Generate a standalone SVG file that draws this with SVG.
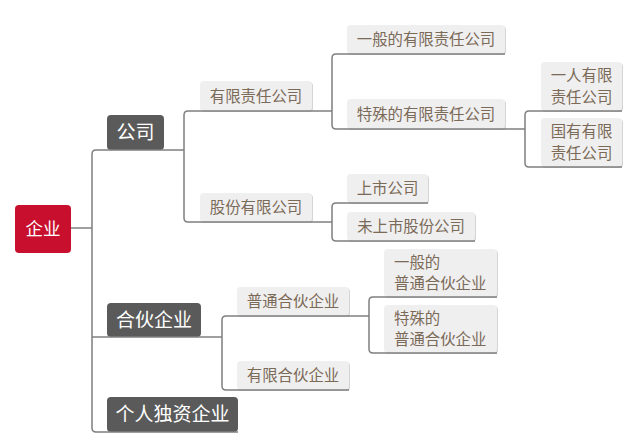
<svg xmlns="http://www.w3.org/2000/svg" width="641" height="442" viewBox="0 0 641 442">
<style>
text{font-family:"Noto Sans CJK SC","Noto Sans",sans-serif;}
.lt rect.b{fill:#efefef;}
.lt rect.s{fill:#d4d4d4;}
.lt text{fill:#7b6a58;font-size:15.4px;}
.dk rect{fill:#5a5a5a;}
.dk text{fill:#ffffff;font-size:19px;}
.c{fill:none;stroke:#7f7f7f;stroke-width:1.5;}
</style>
<rect width="641" height="442" fill="#ffffff"/>
<g id="root"><rect x="15" y="205" width="56" height="48" rx="4" fill="#c8102e"/><text x="43" y="235" text-anchor="middle" fill="#fff" font-size="17.5">企业</text></g>
<g id="n-gongsi" class="dk"><rect x="107" y="115" width="57" height="35" rx="4"/><text x="135.5" y="139" text-anchor="middle">公司</text></g>
<g id="n-hehuo" class="dk"><rect x="107" y="303" width="94" height="34" rx="4"/><text x="154" y="327" text-anchor="middle">合伙企业</text></g>
<g id="n-geren" class="dk"><rect x="107" y="397" width="131" height="35" rx="4"/><text x="172.5" y="421" text-anchor="middle">个人独资企业</text></g>
<g id="n-youxian" class="lt"><rect class="s" x="201" y="82" width="112" height="30" rx="4"/><rect class="b" x="200" y="81" width="112" height="30" rx="4"/><text x="256" y="101.5" text-anchor="middle">有限责任公司</text></g>
<g id="n-gufen" class="lt"><rect class="s" x="201" y="194" width="112" height="29" rx="4"/><rect class="b" x="200" y="193" width="112" height="29" rx="4"/><text x="256" y="213" text-anchor="middle">股份有限公司</text></g>
<g id="n-yiban" class="lt"><rect class="s" x="348" y="26" width="158" height="29" rx="4"/><rect class="b" x="347" y="25" width="158" height="29" rx="4"/><text x="426" y="45" text-anchor="middle">一般的有限责任公司</text></g>
<g id="n-teshu" class="lt"><rect class="s" x="348" y="100" width="158" height="30" rx="4"/><rect class="b" x="347" y="99" width="158" height="30" rx="4"/><text x="426" y="119.5" text-anchor="middle">特殊的有限责任公司</text></g>
<g id="n-yiren" class="lt"><rect class="s" x="542" y="63" width="81" height="49" rx="4"/><rect class="b" x="541" y="62" width="81" height="49" rx="4"/><text x="581.5" y="80.5" text-anchor="middle">一人有限</text><text x="581.5" y="102.5" text-anchor="middle">责任公司</text></g>
<g id="n-guoyou" class="lt"><rect class="s" x="542" y="119" width="81" height="49" rx="4"/><rect class="b" x="541" y="118" width="81" height="49" rx="4"/><text x="581.5" y="136.5" text-anchor="middle">国有有限</text><text x="581.5" y="158.5" text-anchor="middle">责任公司</text></g>
<g id="n-shangshi" class="lt"><rect class="s" x="348" y="175" width="81" height="29" rx="4"/><rect class="b" x="347" y="174" width="81" height="29" rx="4"/><text x="387.5" y="194" text-anchor="middle">上市公司</text></g>
<g id="n-weishangshi" class="lt"><rect class="s" x="348" y="213" width="128" height="29" rx="4"/><rect class="b" x="347" y="212" width="128" height="29" rx="4"/><text x="411" y="232" text-anchor="middle">未上市股份公司</text></g>
<g id="n-putong" class="lt"><rect class="s" x="238" y="288" width="112" height="29" rx="4"/><rect class="b" x="237" y="287" width="112" height="29" rx="4"/><text x="293" y="307" text-anchor="middle">普通合伙企业</text></g>
<g id="n-youxianhehuo" class="lt"><rect class="s" x="238" y="362" width="112" height="29" rx="4"/><rect class="b" x="237" y="361" width="112" height="29" rx="4"/><text x="293" y="381" text-anchor="middle">有限合伙企业</text></g>
<g id="n-yibanpt" class="lt"><rect class="s" x="385" y="250" width="113" height="48" rx="4"/><rect class="b" x="384" y="249" width="113" height="48" rx="4"/><text x="394" y="267.5">一般的</text><text x="394" y="288.5">普通合伙企业</text></g>
<g id="n-teshupt" class="lt"><rect class="s" x="385" y="306" width="113" height="48" rx="4"/><rect class="b" x="384" y="305" width="113" height="48" rx="4"/><text x="394" y="323.5">特殊的</text><text x="394" y="344.5">普通合伙企业</text></g>
<g id="connectors" class="c">
<path d="M71,228 H92"/>
<path d="M164,150 H96 Q92,150 92,154 V428 Q92,432 96,432 H238"/>
<path d="M92,337 H222"/>
<path d="M164,150 H184"/>
<path d="M312,111 H188 Q184,111 184,115 V218 Q184,222 188,222 H312"/>
<path d="M312,111 H332"/>
<path d="M505,54 H336 Q332,54 332,58 V125 Q332,129 336,129 H505"/>
<path d="M505,129 H525"/>
<path d="M622,111 H529 Q525,111 525,115 V163 Q525,167 529,167 H622"/>
<path d="M312,222 H332"/>
<path d="M428,203 H336 Q332,203 332,207 V237 Q332,241 336,241 H475"/>
<path d="M349,316 H226 Q222,316 222,320 V386 Q222,390 226,390 H349"/>
<path d="M349,316 H369"/>
<path d="M497,297 H373 Q369,297 369,301 V349 Q369,353 373,353 H497"/>
</g>
</svg>
